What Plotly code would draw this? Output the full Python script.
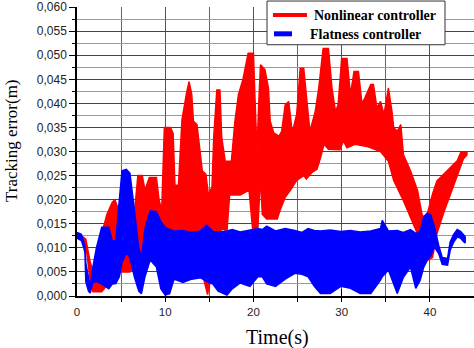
import plotly.graph_objects as go

# Tracking error of the two controllers, drawn as the envelope of the
# fast oscillation (upper and lower bounds, in millimetres).

# --- Nonlinear controller ---
nl_t_upper = [0.6, 1.0, 1.5, 2.0, 2.5, 2.8, 3.4, 4.0, 4.3, 4.8, 5.5, 6.0, 6.5, 6.9, 7.4, 7.7,
              8.2, 9.0, 9.3, 9.6, 9.9, 10.6, 10.9, 11.1, 11.5, 11.9, 12.4, 12.7, 13.0, 13.2,
              13.6, 14.2, 14.6, 14.9, 15.3, 15.5, 15.85, 16.2, 16.4, 16.8, 17.5, 17.9, 18.3,
              18.8, 19.4, 20.0, 20.2, 20.4, 20.6, 20.8, 21.3, 21.7, 21.9, 22.3, 22.9, 23.2,
              23.6, 24.0, 24.4, 24.9, 25.3, 25.7, 26.1, 26.4, 27.0, 27.4, 27.9, 28.5, 28.9,
              29.3, 29.6, 30.0, 30.6, 31.0, 31.4, 31.9, 32.3, 32.6, 33.3, 33.6, 34.0, 34.4,
              34.8, 35.3, 35.7, 35.9, 36.3, 36.7, 37.0, 37.8, 38.6, 39.1, 39.5, 39.7, 40.3,
              40.8, 41.6, 42.3, 43.1, 43.5, 44.2]
nl_upper = [12.4, 11.8, 7.0, 4.0, 8.0, 13.0, 17.0, 19.5, 20.0, 17.5, 18.0, 16.0, 17.0, 25.0, 25.0, 22.0,
            24.6, 24.6, 20.0, 17.7, 35.0, 35.0, 33.7, 23.0, 23.0, 36.6, 42.0, 44.5, 42.0, 36.3,
            35.6, 26.0, 25.3, 21.0, 22.6, 33.0, 42.8, 42.8, 33.0, 28.0, 28.0, 36.3, 41.8,
            44.9, 50.4, 50.4, 39.7, 30.0, 40.0, 48.0, 47.0, 43.2, 36.3, 33.9, 33.2, 34.2,
            39.7, 40.4, 33.9, 37.7, 47.3, 47.3, 39.7, 34.2, 38.3, 43.2, 51.4, 51.4, 43.2,
            38.3, 39.7, 49.3, 49.3, 41.8, 46.6, 46.6, 40.0, 41.0, 43.9, 43.9, 39.0, 40.4,
            37.7, 43.2, 38.3, 35.0, 34.2, 35.6, 29.4, 26.0, 21.9, 17.0, 15.6, 17.0, 21.2,
            23.9, 25.3, 26.7, 28.1, 29.8, 29.8]

nl_t_lower = [0.6, 1.0, 1.5, 1.8, 2.8, 3.3, 3.7, 4.4, 5.0, 6.0, 6.6, 7.1, 8.0, 9.0, 9.6, 10.0,
              11.0, 12.0, 13.0, 13.9, 14.3, 14.8, 15.1, 15.3, 16.0, 16.5, 17.0, 17.3, 18.5,
              19.5, 19.9, 20.5, 20.8, 21.0, 21.5, 22.7, 23.0, 23.6, 24.2, 24.9, 25.7, 26.0,
              26.6, 27.2, 27.6, 28.0, 28.5, 29.8, 30.2, 30.6, 31.5, 33.0, 34.4, 35.3, 35.9,
              37.0, 37.8, 38.6, 39.2, 39.8, 40.3, 40.8, 41.6, 42.3, 43.1, 43.8, 44.2]
nl_lower = [12.0, 10.5, 3.3, 0.9, 0.9, 2.0, 3.0, 4.0, 5.0, 5.0, 6.5, 8.5, 7.0, 9.0, 12.0, 14.0,
            13.5, 13.5, 13.3, 13.0, 4.0, 0.3, 3.0, 13.0, 13.0, 14.0, 13.5, 21.0, 21.0,
            22.0, 14.0, 14.0, 25.0, 17.0, 16.0, 16.0, 17.7, 20.5, 22.0, 24.0, 25.0, 24.3,
            25.6, 26.3, 28.7, 31.5, 30.5, 30.4, 32.2, 30.8, 31.5, 31.0, 30.0, 28.0, 24.0,
            19.8, 16.3, 12.9, 10.0, 7.5, 8.0, 13.0, 17.5, 21.0, 25.0, 28.5, 29.3]

# --- Flatness controller ---
fl_t = [0.0, 0.5, 0.8, 0.9, 1.0, 1.3, 1.5, 1.8, 2.2, 2.8, 3.6, 4.0, 4.4, 4.8, 5.1, 5.6, 6.0,
        6.5, 7.0, 7.3, 7.7, 8.3, 9.0, 9.5, 10.0, 10.5, 11.0, 12.0, 13.0, 14.0, 14.7, 15.4,
        16.0, 17.0, 17.6, 18.5, 19.6, 20.5, 21.0, 21.5, 22.5, 23.6, 24.7, 25.5, 26.2, 26.9,
        27.6, 28.7, 29.9, 31.0, 32.1, 33.3, 34.4, 34.6, 35.3, 36.3, 37.0, 37.8, 38.4, 38.9,
        39.3, 39.7, 40.1, 40.5, 41.0, 41.4, 42.0, 42.3, 42.7, 43.1, 43.5, 43.8, 44.0]
fl_upper = [13.2, 12.8, 11.0, 10.5, 6.8, 4.0, 2.0, 6.0, 10.0, 14.3, 14.3, 11.5, 11.5, 20.0, 26.0, 26.3,
            25.5, 18.0, 10.0, 8.0, 14.0, 17.7, 17.5, 15.5, 14.3, 13.8, 13.5, 13.6, 13.2, 13.5,
            14.7, 13.4, 13.3, 13.5, 13.8, 13.3, 13.6, 14.0, 13.8, 14.5, 13.5, 14.0, 13.6,
            13.2, 14.0, 13.6, 13.5, 13.7, 13.4, 13.6, 13.3, 13.5, 14.0, 15.7, 13.5, 13.6,
            13.2, 13.8, 13.0, 13.4, 16.5, 17.2, 16.8, 14.5, 10.5, 8.0, 7.8, 11.2, 12.8,
            13.8, 13.4, 12.8, 12.3]
fl_lower = [12.0, 11.5, 9.8, 9.0, 3.0, 1.0, 0.6, 2.8, 3.0, 2.5, 1.5, 2.5, 2.6, 4.0, 7.0, 9.0,
            8.0, 4.0, 1.0, 0.5, 4.0, 7.5, 6.0, 1.5, 0.2, 0.5, 3.5, 2.8, 3.5, 3.8, 3.0, 2.5,
            1.0, 0.2, 1.5, 2.7, 2.0, 4.0, 4.0, 2.5, 2.0, 3.5, 4.7, 4.5, 4.0, 2.0, 0.5, 0.5,
            2.0, 1.6, 0.5, 0.5, 3.3, 4.0, 5.4, 0.5, 3.9, 6.0, 1.6, 3.3, 6.0, 7.4, 8.4, 10.2,
            8.8, 6.6, 6.4, 9.5, 11.2, 12.3, 12.0, 11.3, 11.0]

RED = "#ff0000"
BLUE = "#0000ff"


def band(t_up, up, t_low, low, color):
    xs = list(t_up) + list(t_low)[::-1]
    ys = [v / 1000 for v in list(up) + list(low)[::-1]]
    return go.Scatter(x=xs, y=ys, mode="lines", fill="toself", fillcolor=color,
                      line=dict(color=color, width=1.5), showlegend=False,
                      hoverinfo="skip")


fig = go.Figure()
fig.add_trace(band(nl_t_upper, nl_upper, nl_t_lower, nl_lower, RED))
fig.add_trace(band(fl_t, fl_upper, fl_t, fl_lower, BLUE))

# plot-area geometry (pixels) used to place the legend box
L, R, T, B = 77, 474, 5, 296
W, H = R - L, B - T


def px(x):
    return (x - L) / W


def py(y):
    return (B - y) / H


shapes = [
    dict(type="rect", xref="paper", yref="paper", x0=px(267), x1=px(445), y0=py(43), y1=py(-1),
         fillcolor="white", line=dict(color="#333", width=1), layer="above"),
    dict(type="line", xref="paper", yref="paper", x0=px(273), x1=px(307), y0=py(13), y1=py(13),
         line=dict(color=RED, width=4), layer="above"),
    dict(type="line", xref="paper", yref="paper", x0=px(274), x1=px(292), y0=py(32), y1=py(32),
         line=dict(color=BLUE, width=5), layer="above"),
]

serif = "Liberation Serif, Times New Roman, serif"
annotations = [
    dict(text="<b>Nonlinear controller</b>", xref="paper", yref="paper", x=px(312), y=py(14),
         xanchor="left", yanchor="middle", showarrow=False, font=dict(family=serif, size=14, color="black")),
    dict(text="<b>Flatness controller</b>", xref="paper", yref="paper", x=px(308), y=py(33),
         xanchor="left", yanchor="middle", showarrow=False, font=dict(family=serif, size=14, color="black")),
    dict(text="Tracking error(m)", xref="paper", yref="paper", x=px(11), y=py(140), textangle=-90,
         xanchor="center", yanchor="middle", showarrow=False, font=dict(family=serif, size=17, color="black")),
    dict(text="Time(s)", xref="paper", yref="paper", x=px(277), y=py(338),
         xanchor="center", yanchor="middle", showarrow=False, font=dict(family=serif, size=20, color="black")),
]

sans = "Liberation Sans, Arial, sans-serif"
fig.update_layout(
    width=474, height=348,
    margin=dict(l=L, r=474 - R, t=T, b=348 - B),
    paper_bgcolor="white", plot_bgcolor="white",
    separators=",.",
    shapes=shapes, annotations=annotations,
    xaxis=dict(range=[0, 45], tick0=0, dtick=10, ticks="inside", ticklen=7, tickcolor="black",
               showline=True, linecolor="black", linewidth=1.5, zeroline=False,
               showgrid=True, gridcolor="#555", gridwidth=1, ticklabelstandoff=4,
               minor=dict(dtick=5, ticks="outside", ticklen=4, tickcolor="black",
                          showgrid=True, gridcolor="#666", gridwidth=1),
               tickfont=dict(family=sans, size=11.5, color="#222")),
    yaxis=dict(range=[0, 0.06002], tick0=0, dtick=0.005, tickformat=".3f", ticks="outside", ticklen=6,
               tickcolor="black", showline=True, linecolor="black", linewidth=1.5, zeroline=False,
               showgrid=True, gridcolor="#444", gridwidth=1, ticklabeloverflow="allow",
               minor=dict(dtick=0.0025, ticks="outside", ticklen=3, tickcolor="black",
                          showgrid=True, gridcolor="#9a9a9a", gridwidth=1),
               tickfont=dict(family=sans, size=12, color="#222")),
)

fig.write_html("out.html")
